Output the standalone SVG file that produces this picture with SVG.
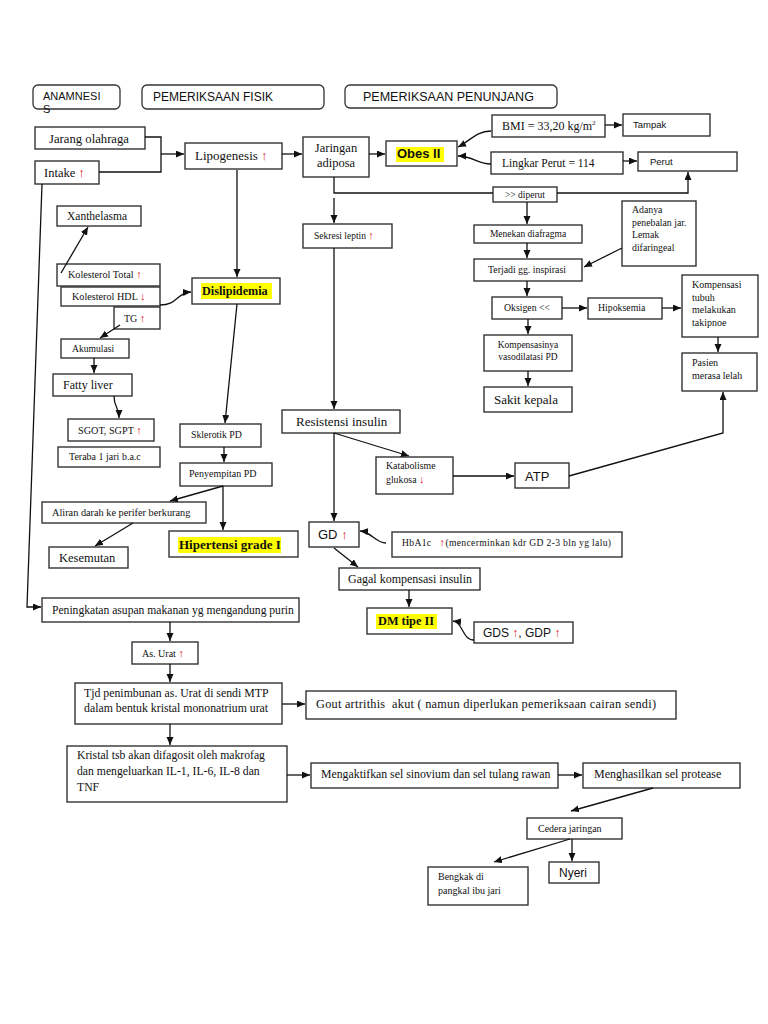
<svg xmlns="http://www.w3.org/2000/svg" width="768" height="1024" viewBox="0 0 768 1024">
<style>
.bg{fill:#fff}
.box{fill:#fff;stroke:#333;stroke-width:1.4}
.hdr{fill:#fff;stroke:#333;stroke-width:1.3}
.s{font-family:"Liberation Serif","Times New Roman",serif;fill:#111}
.a{font-family:"Liberation Sans",Arial,sans-serif;fill:#111}
.b{font-weight:bold}
.r{fill:#e01818}
.hl{fill:#ffff00}
.c path,.c line,.c polyline{fill:none;stroke:#111;stroke-width:1.3}
</style>
<defs>
<marker id="ah" markerWidth="9" markerHeight="8" refX="8" refY="3.5" orient="auto" markerUnits="userSpaceOnUse">
<path d="M0,0 L8,3.5 L0,7 z" fill="#111"/>
</marker>
</defs>
<rect class="bg" x="0" y="0" width="768" height="1024"/>

<g id="hdr-anamnesis"><rect class="hdr" x="33" y="85" width="87" height="24" rx="5"/><text class="a" x="43" y="100" font-size="11">ANAMNESI</text><text class="a" x="43" y="113" font-size="11">S</text></g>
<g id="hdr-fisik"><rect class="hdr" x="142" y="85" width="182" height="24" rx="5"/><text class="a" x="153" y="101" font-size="12">PEMERIKSAAN FISIK</text></g>
<g id="hdr-penunjang"><rect class="hdr" x="345" y="85" width="212" height="23" rx="5"/><text class="a" x="363" y="101" font-size="12.5">PEMERIKSAAN PENUNJANG</text></g>

<g id="jarang"><rect class="box" x="35" y="127" width="110" height="22"/><text class="s" x="49" y="143" font-size="12.7">Jarang olahraga</text></g>
<g id="intake"><rect class="box" x="35" y="161" width="64" height="23"/><text class="s" x="44" y="177" font-size="12.5">Intake <tspan class="r">↑</tspan></text></g>
<g id="lipogenesis"><rect class="box" x="185" y="143" width="97" height="26"/><text class="s" x="195" y="160" font-size="13">Lipogenesis <tspan class="r">↑</tspan></text></g>
<g id="jaringan"><rect class="box" x="303" y="137" width="66" height="40"/><text class="s" x="336" y="152" font-size="12.5" text-anchor="middle">Jaringan</text><text class="s" x="336" y="167" font-size="12.5" text-anchor="middle">adiposa</text></g>
<g id="obes"><rect class="box" x="386" y="141" width="71" height="25"/><rect class="hl" x="396" y="147" width="48" height="15"/><text class="a b" x="397" y="158" font-size="13">Obes II</text></g>
<g id="bmi"><rect class="box" x="492" y="115" width="113" height="22"/><text class="s" x="502" y="130" font-size="12">BMI = 33,20 kg/m<tspan font-size="7" dy="-5">2</tspan></text></g>
<g id="tampak"><rect class="box" x="623" y="114" width="87" height="22"/><text class="a" x="633" y="128" font-size="9.5">Tampak</text></g>
<g id="lingkar"><rect class="box" x="491" y="152" width="132" height="22"/><text class="s" x="502" y="167" font-size="11.5">Lingkar Perut = 114</text></g>
<g id="perut"><rect class="box" x="638" y="152" width="99" height="19"/><text class="a" x="650" y="165" font-size="9.5">Perut</text></g>
<g id="diperut"><rect class="box" x="493" y="187" width="64" height="15"/><text class="s" x="525" y="198" font-size="9.5" text-anchor="middle">&gt;&gt; diperut</text></g>
<g id="leptin"><rect class="box" x="303" y="224" width="89" height="24"/><text class="s" x="314" y="239" font-size="9.5">Sekresi leptin <tspan class="r" font-size="11">↑</tspan></text></g>
<g id="menekan"><rect class="box" x="474" y="225" width="108" height="18"/><text class="s" x="528" y="237" font-size="9.5" text-anchor="middle">Menekan diafragma</text></g>
<g id="terjadi"><rect class="box" x="474" y="259" width="108" height="22"/><text class="s" x="527" y="273" font-size="9.8" text-anchor="middle">Terjadi gg. inspirasi</text></g>
<g id="adanya"><rect class="box" x="622" y="201" width="74" height="65"/><text class="s" x="632" y="213" font-size="9.8">Adanya</text><text class="s" x="632" y="226" font-size="9.8">penebalan jar.</text><text class="s" x="632" y="238" font-size="9.8">Lemak</text><text class="s" x="632" y="251" font-size="9.8">difaringeal</text></g>
<g id="oksigen"><rect class="box" x="492" y="297" width="70" height="22"/><text class="s" x="527" y="311" font-size="9.8" text-anchor="middle">Oksigen &lt;&lt;</text></g>
<g id="hipoksemia"><rect class="box" x="588" y="298" width="74" height="21"/><text class="s" x="598" y="311" font-size="9.8">Hipoksemia</text></g>
<g id="takipnoe"><rect class="box" x="682" y="275" width="76" height="62"/><text class="s" x="692" y="288" font-size="10">Kompensasi</text><text class="s" x="692" y="301" font-size="10">tubuh</text><text class="s" x="692" y="313" font-size="10">melakukan</text><text class="s" x="692" y="326" font-size="10">takipnoe</text></g>
<g id="pasien"><rect class="box" x="682" y="353" width="75" height="38"/><text class="s" x="692" y="366" font-size="10">Pasien</text><text class="s" x="692" y="379" font-size="10">merasa lelah</text></g>
<g id="vasodilatasi"><rect class="box" x="484" y="335" width="88" height="36"/><text class="s" x="528" y="348" font-size="9.5" text-anchor="middle">Kompensasinya</text><text class="s" x="528" y="360" font-size="9.5" text-anchor="middle">vasodilatasi PD</text></g>
<g id="sakit"><rect class="box" x="484" y="387" width="88" height="25"/><text class="s" x="494" y="404" font-size="13">Sakit kepala</text></g>

<g id="xanthelasma"><rect class="box" x="57" y="206" width="84" height="20"/><text class="s" x="67" y="220" font-size="11.5">Xanthelasma</text></g>
<g id="koltotal"><rect class="box" x="57" y="264" width="103" height="22"/><text class="s" x="68" y="278" font-size="10.2">Kolesterol Total <tspan class="r" font-size="11">↑</tspan></text></g>
<g id="kolhdl"><rect class="box" x="61" y="287" width="99" height="19"/><text class="s" x="72" y="300" font-size="10.2">Kolesterol HDL <tspan class="r" font-size="11">↓</tspan></text></g>
<g id="tg"><rect class="box" x="114" y="307" width="46" height="22"/><text class="s" x="124" y="322" font-size="10">TG <tspan class="r" font-size="11">↑</tspan></text></g>
<g id="dislipidemia"><rect class="box" x="192" y="278" width="88" height="26"/><rect class="hl" x="201" y="283" width="71" height="16"/><text class="s b" x="202" y="295" font-size="12.2">Dislipidemia</text></g>
<g id="akumulasi"><rect class="box" x="61" y="339" width="68" height="19"/><text class="s" x="72" y="352" font-size="9.6">Akumulasi</text></g>
<g id="fatty"><rect class="box" x="53" y="374" width="79" height="22"/><text class="s" x="63" y="389" font-size="12">Fatty liver</text></g>
<g id="sgot"><rect class="box" x="68" y="419" width="86" height="22"/><text class="s" x="78" y="434" font-size="10.2">SGOT, SGPT <tspan class="r" font-size="11">↑</tspan></text></g>
<g id="teraba"><rect class="box" x="58" y="447" width="102" height="20"/><text class="s" x="69" y="460" font-size="10">Teraba 1 jari b.a.c</text></g>
<g id="sklerotik"><rect class="box" x="180" y="424" width="81" height="23"/><text class="s" x="191" y="438" font-size="9.8">Sklerotik PD</text></g>
<g id="penyempitan"><rect class="box" x="180" y="463" width="92" height="23"/><text class="s" x="189" y="477" font-size="10">Penyempitan PD</text></g>
<g id="aliran"><rect class="box" x="42" y="502" width="164" height="21"/><text class="s" x="52" y="516" font-size="10.3">Aliran darah ke perifer berkurang</text></g>
<g id="hipertensi"><rect class="box" x="169" y="531" width="129" height="26"/><rect class="hl" x="178" y="537" width="103" height="16"/><text class="s b" x="179" y="549" font-size="13">Hipertensi grade I</text></g>
<g id="kesemutan"><rect class="box" x="49" y="547" width="79" height="21"/><text class="s" x="59" y="562" font-size="12.5">Kesemutan</text></g>

<g id="resistensi"><rect class="box" x="282" y="410" width="118" height="23"/><text class="s" x="296" y="426" font-size="13">Resistensi insulin</text></g>
<g id="katabolisme"><rect class="box" x="376" y="457" width="77" height="37"/><text class="s" x="386" y="469" font-size="9.8">Katabolisme</text><text class="s" x="386" y="483" font-size="9.8">glukosa <tspan class="r" font-size="11">↓</tspan></text></g>
<g id="atp"><rect class="box" x="515" y="463" width="54" height="25"/><text class="a" x="525" y="481" font-size="13">ATP</text></g>
<g id="gd"><rect class="box" x="309" y="522" width="50" height="25"/><text class="a" x="318" y="539" font-size="13">GD <tspan class="r">↑</tspan></text></g>
<g id="hba1c"><rect class="box" x="392" y="532" width="230" height="25"/><text class="s" x="402" y="546" font-size="9.6" xml:space="preserve" textLength="209" lengthAdjust="spacing">HbA1c   <tspan class="r" font-size="11">↑</tspan>(mencerminkan kdr GD 2-3 bln yg lalu)</text></g>
<g id="gagal"><rect class="box" x="339" y="568" width="141" height="22"/><text class="s" x="348" y="583" font-size="12">Gagal kompensasi insulin</text></g>
<g id="dm"><rect class="box" x="367" y="608" width="85" height="26"/><rect class="hl" x="376" y="614" width="61" height="15"/><text class="s b" x="378" y="625" font-size="12.3">DM tipe II</text></g>
<g id="gds"><rect class="box" x="474" y="622" width="99" height="21"/><text class="a" x="483" y="637" font-size="12">GDS <tspan class="r">↑</tspan>, GDP <tspan class="r">↑</tspan></text></g>

<g id="peningkatan"><rect class="box" x="42" y="598" width="257" height="24"/><text class="s" x="52" y="614" font-size="11.6">Peningkatan asupan makanan yg mengandung purin</text></g>
<g id="asurat"><rect class="box" x="132" y="642" width="66" height="22"/><text class="s" x="142" y="657" font-size="10">As. Urat  <tspan class="r" font-size="11">↑</tspan></text></g>
<g id="tjd"><rect class="box" x="75" y="683" width="207" height="41"/><text class="s" x="84" y="697" font-size="11.8">Tjd penimbunan as. Urat di sendi MTP</text><text class="s" x="84" y="712" font-size="11.8">dalam bentuk kristal mononatrium urat</text></g>
<g id="gout"><rect class="box" x="306" y="691" width="370" height="28"/><text class="s" x="316" y="708" font-size="12.3" xml:space="preserve" textLength="340" lengthAdjust="spacing">Gout artrithis  akut ( namun diperlukan pemeriksaan cairan sendi)</text></g>
<g id="kristal"><rect class="box" x="67" y="746" width="220" height="56"/><text class="s" x="77" y="759" font-size="11.7">Kristal tsb akan difagosit oleh makrofag</text><text class="s" x="77" y="775" font-size="11.7">dan mengeluarkan IL-1, IL-6, IL-8 dan</text><text class="s" x="77" y="791" font-size="11.7">TNF</text></g>
<g id="mengaktifkan"><rect class="box" x="311" y="763" width="247" height="25"/><text class="s" x="321" y="778" font-size="11.8">Mengaktifkan sel sinovium dan sel tulang rawan</text></g>
<g id="menghasilkan"><rect class="box" x="583" y="763" width="157" height="25"/><text class="s" x="594" y="778" font-size="12">Menghasilkan sel protease</text></g>
<g id="cedera"><rect class="box" x="527" y="818" width="95" height="21"/><text class="s" x="538" y="832" font-size="10">Cedera jaringan</text></g>
<g id="bengkak"><rect class="box" x="428" y="867" width="100" height="38"/><text class="s" x="438" y="880" font-size="10">Bengkak di</text><text class="s" x="438" y="894" font-size="10">pangkal ibu jari</text></g>
<g id="nyeri"><rect class="box" x="549" y="862" width="50" height="21"/><text class="a" x="559" y="877" font-size="12">Nyeri</text></g>

<g id="connectors" class="c">
<polyline points="145,137 161,137 161,172 99,172"/>
<line x1="161" y1="154" x2="184" y2="154" marker-end="url(#ah)"/>
<line x1="282" y1="154" x2="302" y2="154" marker-end="url(#ah)"/>
<line x1="369" y1="154" x2="385" y2="154" marker-end="url(#ah)"/>
<path d="M491,131 C476,131 470,141 458,147" marker-end="url(#ah)"/>
<path d="M491,164 C478,164 472,156 458,156" marker-end="url(#ah)"/>
<line x1="605" y1="125" x2="622" y2="125" marker-end="url(#ah)"/>
<line x1="623" y1="161" x2="637" y2="161" marker-end="url(#ah)"/>
<polyline points="334,177 334,193 493,193"/>
<polyline points="557,193 688,193 688,172" marker-end="url(#ah)"/>
<line x1="334" y1="198" x2="334" y2="223" marker-end="url(#ah)"/>
<line x1="527" y1="202" x2="527" y2="224" marker-end="url(#ah)"/>
<line x1="527" y1="243" x2="527" y2="258" marker-end="url(#ah)"/>
<line x1="622" y1="248" x2="584" y2="267" marker-end="url(#ah)"/>
<line x1="527" y1="281" x2="527" y2="296" marker-end="url(#ah)"/>
<line x1="562" y1="308" x2="587" y2="308" marker-end="url(#ah)"/>
<line x1="662" y1="308" x2="681" y2="308" marker-end="url(#ah)"/>
<line x1="718" y1="337" x2="718" y2="352" marker-end="url(#ah)"/>
<line x1="528" y1="319" x2="528" y2="334" marker-end="url(#ah)"/>
<line x1="528" y1="371" x2="528" y2="386" marker-end="url(#ah)"/>
<line x1="334" y1="248" x2="334" y2="409" marker-end="url(#ah)"/>
<line x1="334" y1="433" x2="409" y2="456" marker-end="url(#ah)"/>
<line x1="334" y1="433" x2="334" y2="521" marker-end="url(#ah)"/>
<line x1="453" y1="476" x2="514" y2="476" marker-end="url(#ah)"/>
<polyline points="569,476 723,433 723,392" marker-end="url(#ah)"/>
<path d="M386,543 C375,543 372,532 360,531" marker-end="url(#ah)"/>
<line x1="334" y1="548" x2="358" y2="567" marker-end="url(#ah)"/>
<line x1="409" y1="590" x2="409" y2="607" marker-end="url(#ah)"/>
<path d="M474,640 C462,640 463,622 453,621" marker-end="url(#ah)"/>
<line x1="61" y1="273" x2="88" y2="227" marker-end="url(#ah)"/>
<path d="M160,305 C178,305 176,293 191,292" marker-end="url(#ah)"/>
<line x1="237" y1="170" x2="237" y2="277" marker-end="url(#ah)"/>
<line x1="120" y1="325" x2="100" y2="338" marker-end="url(#ah)"/>
<line x1="94" y1="358" x2="94" y2="373" marker-end="url(#ah)"/>
<path d="M114,396 C114,408 119,406 119,418" marker-end="url(#ah)"/>
<line x1="237" y1="304" x2="225" y2="423" marker-end="url(#ah)"/>
<line x1="224" y1="447" x2="224" y2="462" marker-end="url(#ah)"/>
<line x1="223" y1="486" x2="170" y2="501" marker-end="url(#ah)"/>
<line x1="223" y1="486" x2="223" y2="530" marker-end="url(#ah)"/>
<line x1="133" y1="523" x2="95" y2="546" marker-end="url(#ah)"/>
<polyline points="42,184 27,607 41,607" marker-end="url(#ah)"/>
<line x1="170" y1="622" x2="170" y2="641" marker-end="url(#ah)"/>
<line x1="170" y1="664" x2="170" y2="682" marker-end="url(#ah)"/>
<line x1="282" y1="704" x2="305" y2="704" marker-end="url(#ah)"/>
<line x1="170" y1="724" x2="170" y2="745" marker-end="url(#ah)"/>
<line x1="287" y1="775" x2="310" y2="775" marker-end="url(#ah)"/>
<line x1="558" y1="775" x2="582" y2="775" marker-end="url(#ah)"/>
<line x1="653" y1="788" x2="571" y2="811" marker-end="url(#ah)"/>
<line x1="570" y1="839" x2="494" y2="862" marker-end="url(#ah)"/>
<line x1="572" y1="839" x2="572" y2="861" marker-end="url(#ah)"/>
</g>
</svg>
